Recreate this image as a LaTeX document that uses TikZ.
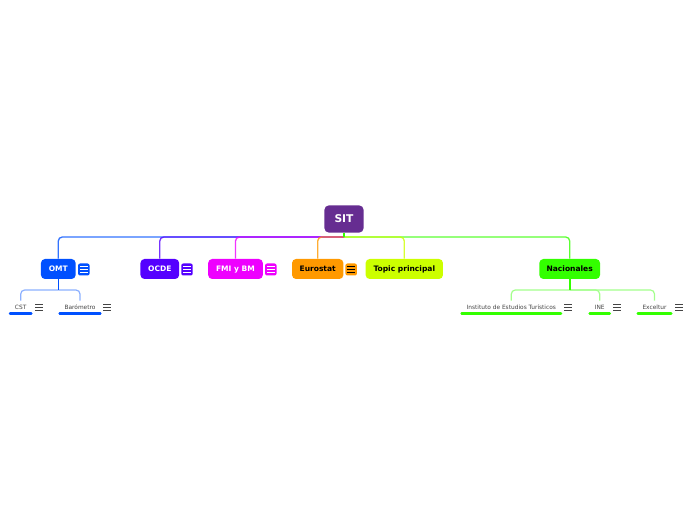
\documentclass[tikz,border=0pt]{standalone}
\usepackage{fontspec}
\setmainfont{DejaVu Sans}
\definecolor{cSIT}{HTML}{662D91}
\definecolor{cOMT}{HTML}{0050FF}
\definecolor{cOCDE}{HTML}{5500FF}
\definecolor{cFMI}{HTML}{EE00FF}
\definecolor{cEuro}{HTML}{FF9900}
\definecolor{cTopic}{HTML}{CCFF00}
\definecolor{cNac}{HTML}{33FF00}
\definecolor{cIcon}{HTML}{444444}
\tikzset{
  x=0.75pt,y=-0.75pt,
  topicbox/.style={rectangle,rounded corners=3pt,inner sep=0pt,minimum height=15pt,text height=4.8pt,text depth=1.7pt,font=\bfseries\fontsize{5.65pt}{6pt}\selectfont},
  rootbox/.style={rectangle,rounded corners=3.5pt,inner sep=0pt,minimum width=29.5pt,minimum height=20.5pt,fill=cSIT,text=white,font=\bfseries\fontsize{8pt}{9pt}\selectfont},
  menubox/.style={rectangle,rounded corners=1.5pt,inner sep=0pt,minimum width=8.6pt,minimum height=9pt,fill=#1},
  menulines/.style={draw=#1,line width=0.4pt},
  leaf/.style={rectangle,inner sep=0pt,minimum height=9pt,text=cIcon,font=\fontsize{4.4pt}{5pt}\selectfont},
  under/.style={line width=2pt,line cap=round,draw=#1,shorten <=0.7pt,shorten >=0.7pt},
  link/.style={draw=#1,line width=1pt,opacity=0.8,rounded corners=3pt},
  sublink/.style={draw=#1!45,line width=0.9pt,rounded corners=3pt},
  stem/.style={draw=#1,line width=1.2pt},
}
\newcommand{\menuglyph}[2]{%
  \draw[menulines=#2] ([xshift=-2.8pt,yshift=2.2pt]#1.center) -- ([xshift=2.8pt,yshift=2.2pt]#1.center);
  \draw[menulines=#2] ([xshift=-2.8pt]#1.center) -- ([xshift=2.8pt]#1.center);
  \draw[menulines=#2] ([xshift=-2.8pt,yshift=-2.2pt]#1.center) -- ([xshift=2.8pt,yshift=-2.2pt]#1.center);
}
\begin{document}
\begin{tikzpicture}
\useasboundingbox (0,0) rectangle (696,520);
% nodes
\node[rootbox] (sit) at (344,219) {SIT};
\node[topicbox,fill=cOMT,text=white,minimum width=26pt] (omt) at (58.3,269) {OMT};
\node[topicbox,fill=cOCDE,text=white,minimum width=29pt] (ocde) at (159.8,269) {OCDE};
\node[topicbox,fill=cFMI,text=white,minimum width=41pt] (fmi) at (235.5,269) {FMI y BM};
\node[topicbox,fill=cEuro,text=black,minimum width=38.5pt] (euro) at (317.7,269) {Eurostat};
\node[topicbox,fill=cTopic,text=black,minimum width=58pt] (topic) at (404.3,269) {Topic principal};
\node[topicbox,fill=cNac,text=black,minimum width=45.5pt] (nac) at (569.7,269) {Nacionales};
\node[leaf,minimum width=16.9pt] (cst) at (20.7,307) {CST};
\node[leaf,minimum width=31.5pt] (baro) at (80,307) {Barómetro};
\node[leaf,minimum width=75.5pt] (iet) at (511.3,307) {Instituto de Estudios Turísticos};
\node[leaf,minimum width=16pt] (ine) at (599.7,307) {INE};
\node[leaf,minimum width=26pt] (exc) at (654.5,307) {Exceltur};
\coordinate (bus) at (0,237);
\coordinate (sub) at (0,290);
% main connectors
\foreach \t/\c in {nac/cNac,topic/cTopic,omt/cOMT,ocde/cOCDE,fmi/cFMI,euro/cEuro}{
  \draw[link=\c] (sit.south |- bus) -| (\t.north);
}
\draw[stem=cNac] (sit.south) -- (sit.south |- bus);
% sub connectors
\foreach \t in {cst,baro}{
  \draw[sublink=cOMT] (omt.south |- sub) -| (\t.north);
}
\foreach \t in {iet,ine,exc}{
  \draw[sublink=cNac] (nac.south |- sub) -| (\t.north);
}
\draw[stem=cOMT] (omt.south) -- (omt.south |- sub);
\draw[stem=cNac] (nac.south) -- (nac.south |- sub);
% underlines
\draw[under=cOMT] (cst.south west) -- (cst.south east);
\draw[under=cOMT] (baro.south west) -- (baro.south east);
\draw[under=cNac] (iet.south west) -- (iet.south east);
\draw[under=cNac] (ine.south west) -- (ine.south east);
\draw[under=cNac] (exc.south west) -- (exc.south east);
% menu icons
\node[menubox=cOMT] (m1) at (83.8,269.5) {}; \menuglyph{m1}{white}
\node[menubox=cOCDE] (m2) at (187,269.5) {}; \menuglyph{m2}{white}
\node[menubox=cFMI] (m3) at (270.8,269.5) {}; \menuglyph{m3}{white}
\node[menubox=cEuro] (m4) at (351.2,269.5) {}; \menuglyph{m4}{black}
\node[menubox=white] (m5) at (39,307) {}; \menuglyph{m5}{cIcon}
\node[menubox=white] (m6) at (107,307) {}; \menuglyph{m6}{cIcon}
\node[menubox=white] (m7) at (568,307) {}; \menuglyph{m7}{cIcon}
\node[menubox=white] (m8) at (617,307) {}; \menuglyph{m8}{cIcon}
\node[menubox=white] (m9) at (679,307) {}; \menuglyph{m9}{cIcon}
\end{tikzpicture}
\end{document}
